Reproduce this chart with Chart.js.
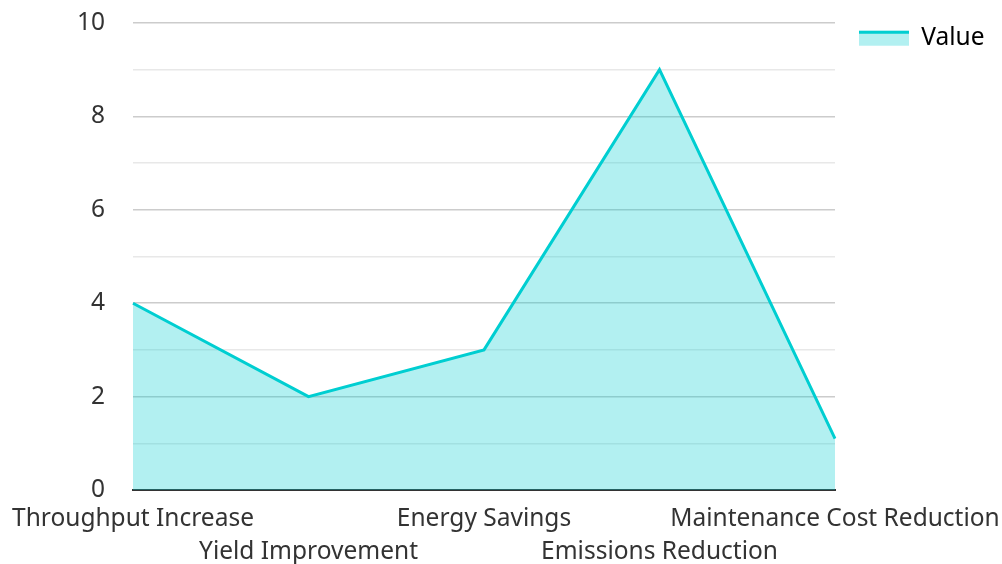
<!DOCTYPE html>
<html>
<head>
<meta charset="utf-8">
<script src="https://cdn.jsdelivr.net/npm/chart.js@4/dist/chart.umd.min.js"></script>
<style>
    html, body { margin: 0; padding: 0; background: #fff; }
    #wrap { width: 1002px; height: 564px; }
</style>
</head>
<body>
<div id="wrap"><canvas id="chart"></canvas></div>
<script>
const categories = [
    "Throughput Increase",
    "Yield Improvement",
    "Energy Savings",
    "Emissions Reduction",
    "Maintenance Cost Reduction"
];
const values = [4, 2, 3, 9, 1.1];
const seriesName = "Value";
const yTicks = [0, 2, 4, 6, 8, 10];

const lineColor = "#00ced1";
const fillColor = "rgba(0, 206, 209, 0.3)";
const textColor = "#333333";
const fontSize = 24.5;

Chart.defaults.font.family = "'Noto Sans', 'Open Sans', sans-serif";
Chart.defaults.font.size = fontSize;
Chart.defaults.color = textColor;

// thick line along the top of the legend swatch
const legendLine = {
    id: "legendLine",
    afterDraw(chart) {
        const legend = chart.legend;
        if (!legend || !legend.legendHitBoxes) return;
        const ctx = chart.ctx;
        const opts = legend.options.labels;
        legend.legendHitBoxes.forEach((box) => {
            const top = box.top + Math.max((fontSize - opts.boxHeight) / 2, 0);
            ctx.save();
            ctx.fillStyle = lineColor;
            ctx.fillRect(box.left, top, opts.boxWidth, 3);
            ctx.restore();
        });
    },
};

new Chart(document.getElementById("chart").getContext("2d"), {
    type: "line",
    data: {
        labels: categories,
        datasets: [
            {
                label: seriesName,
                data: values,
                borderColor: lineColor,
                backgroundColor: fillColor,
                borderWidth: 3,
                fill: "origin",
                tension: 0,
                pointRadius: 0,
                pointHoverRadius: 0,
            },
        ],
    },
    options: {
        responsive: true,
        maintainAspectRatio: false,
        animation: false,
        layout: { padding: { left: 12, top: 2, right: 0, bottom: 0 } },
        scales: {
            x: {
                offset: false,
                grid: { display: false, drawTicks: false },
                border: { display: true, color: "#333333", width: 2 },
                ticks: {
                    autoSkip: false,
                    maxRotation: 0,
                    minRotation: 0,
                    padding: 13,
                    font: { size: fontSize, lineHeight: 1.33 },
                    callback: (v, i) => (i % 2 === 1 ? ["", categories[i]] : categories[i]),
                },
                afterFit: (scale) => {
                    scale.paddingLeft = 133;
                    scale.paddingRight = 167;
                    scale.height = 74;
                },
            },
            y: {
                min: 0,
                max: 10,
                border: { display: false },
                grid: {
                    drawTicks: false,
                    color: (ctx) => (ctx.tick && ctx.tick.value % 2 === 0 ? "#cccccc" : "#e8e8e8"),
                    lineWidth: 1.5,
                },
                ticks: {
                    stepSize: 1,
                    padding: 28,
                    callback: (v) => (yTicks.includes(v) ? v : ""),
                },
                afterFit: (scale) => {
                    scale.paddingTop = 23;
                    scale.paddingBottom = 0;
                },
            },
        },
        plugins: {
            tooltip: { enabled: false },
            legend: {
                position: "right",
                align: "start",
                labels: {
                    boxWidth: 50,
                    boxHeight: 15,
                    padding: 24,
                    font: { size: fontSize },
                    generateLabels: (chart) =>
                        chart.data.datasets.map((ds, i) => ({
                            text: ds.label,
                            fillStyle: fillColor,
                            strokeStyle: "rgba(0,0,0,0)",
                            lineWidth: 0,
                            datasetIndex: i,
                        })),
                },
            },
        },
    },
    plugins: [legendLine],
});
</script>
</body>
</html>
